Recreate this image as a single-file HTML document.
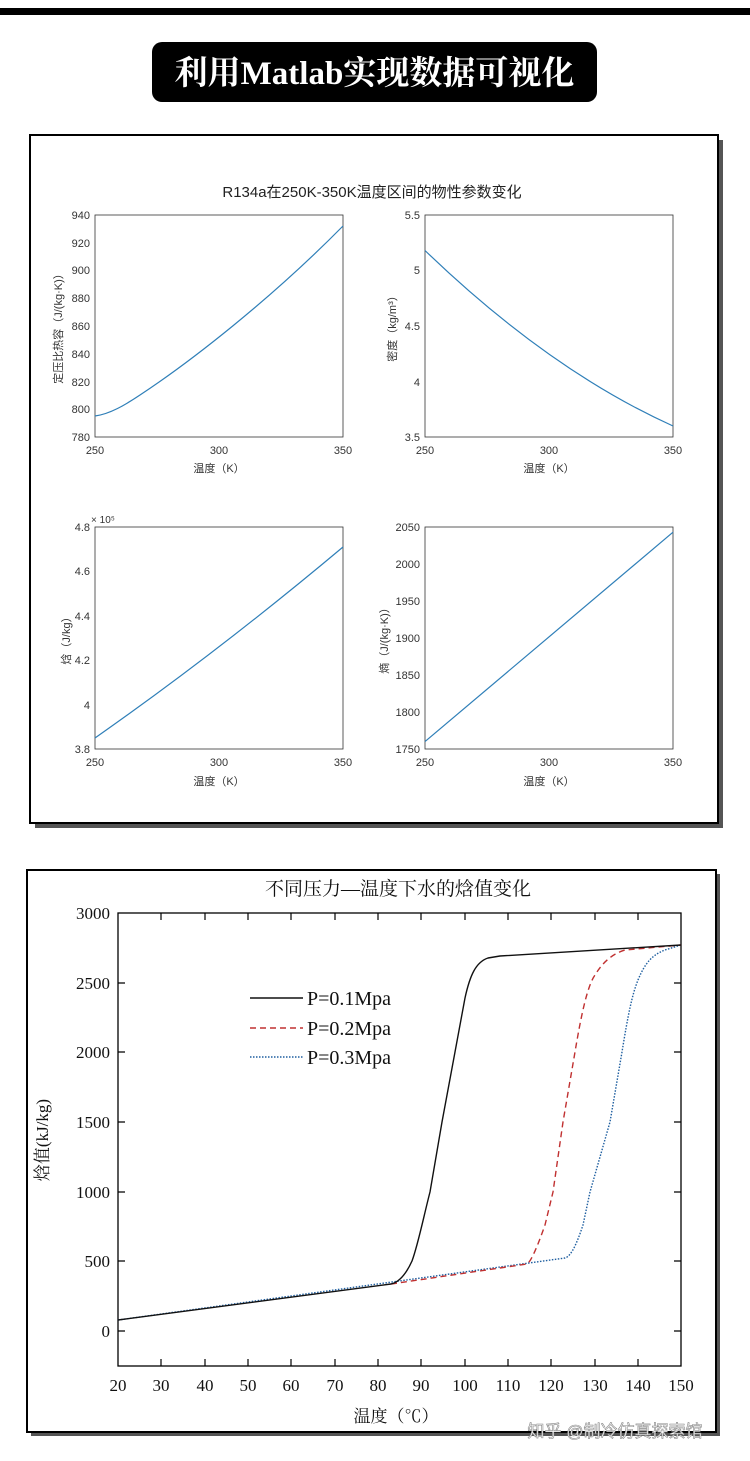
<!DOCTYPE html>
<html><head><meta charset="utf-8"><style>
body{margin:0;background:#fff;width:750px;height:1461px;overflow:hidden}
svg{display:block}
</style></head><body>
<svg width="750" height="1461" xmlns="http://www.w3.org/2000/svg" font-family="Liberation Sans, Noto Sans CJK SC, sans-serif">
<rect x="0" y="8" width="750" height="7" fill="#000"/>
<rect x="152" y="42" width="445" height="60" rx="10" fill="#000"/>
<text x="374.5" y="84" text-anchor="middle" fill="#fff" font-size="33" font-weight="bold" font-family="Liberation Serif, Noto Serif CJK SC, serif">利用Matlab实现数据可视化</text>

<!-- panel 1 -->
<rect x="35" y="140" width="688" height="688" fill="#555"/>
<rect x="30" y="135" width="688" height="688" fill="#fff" stroke="#000" stroke-width="2"/>
<text x="372" y="197" text-anchor="middle" font-size="15" fill="#222">R134a在250K-350K温度区间的物性参数变化</text>
<g fill="none" stroke="#333" stroke-width="0.8">
<rect x="95" y="215" width="248" height="222"/>
<rect x="425" y="215" width="248" height="222"/>
<rect x="95" y="527" width="248" height="222"/>
<rect x="425" y="527" width="248" height="222"/>
</g>
<g fill="none" stroke="#2f7fb8" stroke-width="1.2">
<path d="M95,416 C110,414 125,405 140,395 C190,362 270,300 343,226"/>
<path d="M425,250.5 Q549,370 673,426"/>
<path d="M95,738 Q219,651 343,547"/>
<path d="M425,741.6 L673,532.2"/>
</g>
<g font-size="11" fill="#333" text-anchor="end">
<text x="90" y="219">940</text><text x="90" y="247">920</text><text x="90" y="274">900</text><text x="90" y="302">880</text><text x="90" y="330">860</text><text x="90" y="358">840</text><text x="90" y="386">820</text><text x="90" y="413">800</text><text x="90" y="441">780</text>
<text x="420" y="219">5.5</text><text x="420" y="274">5</text><text x="420" y="330">4.5</text><text x="420" y="386">4</text><text x="420" y="441">3.5</text>
<text x="90" y="531">4.8</text><text x="90" y="575">4.6</text><text x="90" y="620">4.4</text><text x="90" y="664">4.2</text><text x="90" y="709">4</text><text x="90" y="753">3.8</text>
<text x="420" y="531">2050</text><text x="420" y="568">2000</text><text x="420" y="605">1950</text><text x="420" y="642">1900</text><text x="420" y="679">1850</text><text x="420" y="716">1800</text><text x="420" y="753">1750</text>
</g>
<g font-size="11" fill="#333" text-anchor="middle">
<text x="95" y="454">250</text><text x="219" y="454">300</text><text x="343" y="454">350</text>
<text x="425" y="454">250</text><text x="549" y="454">300</text><text x="673" y="454">350</text>
<text x="95" y="766">250</text><text x="219" y="766">300</text><text x="343" y="766">350</text>
<text x="425" y="766">250</text><text x="549" y="766">300</text><text x="673" y="766">350</text>
<text x="219" y="472">温度（K）</text><text x="549" y="472">温度（K）</text>
<text x="219" y="785">温度（K）</text><text x="549" y="785">温度（K）</text>
<text x="62" y="326" transform="rotate(-90 62 326)">定压比热容（J/(kg·K)）</text>
<text x="396" y="326" transform="rotate(-90 396 326)">密度（kg/m³）</text>
<text x="70" y="638" transform="rotate(-90 70 638)">焓（J/kg）</text>
<text x="388" y="638" transform="rotate(-90 388 638)">熵（J/(kg·K)）</text>
<text x="103" y="523" font-size="10">× 10⁵</text>
</g>

<!-- panel 2 -->
<rect x="31" y="874" width="689" height="562" fill="#555"/>
<rect x="27" y="870" width="689" height="562" fill="#fff" stroke="#000" stroke-width="2"/>
<g font-family="Liberation Serif, Noto Serif CJK SC, serif" fill="#111">
<text x="398" y="895" text-anchor="middle" font-size="19">不同压力—温度下水的焓值变化</text>
<rect x="118" y="913" width="563" height="453" fill="none" stroke="#000" stroke-width="1.3"/>
<g stroke="#000" stroke-width="1.2">
<path d="M161,913v7M205,913v7M248,913v7M291,913v7M335,913v7M378,913v7M421,913v7M465,913v7M508,913v7M551,913v7M595,913v7M638,913v7"/>
<path d="M161,1366v-7M205,1366v-7M248,1366v-7M291,1366v-7M335,1366v-7M378,1366v-7M421,1366v-7M465,1366v-7M508,1366v-7M551,1366v-7M595,1366v-7M638,1366v-7"/>
<path d="M118,983h7M118,1052h7M118,1122h7M118,1192h7M118,1261h7M118,1331h7M681,983h-7M681,1052h-7M681,1122h-7M681,1192h-7M681,1261h-7M681,1331h-7"/>
</g>
<g font-size="17" text-anchor="end">
<text x="110" y="919">3000</text><text x="110" y="989">2500</text><text x="110" y="1058">2000</text><text x="110" y="1128">1500</text><text x="110" y="1198">1000</text><text x="110" y="1267">500</text><text x="110" y="1337">0</text>
</g>
<g font-size="17" text-anchor="middle">
<text x="118" y="1391">20</text><text x="161" y="1391">30</text><text x="205" y="1391">40</text><text x="248" y="1391">50</text><text x="291" y="1391">60</text><text x="335" y="1391">70</text><text x="378" y="1391">80</text><text x="421" y="1391">90</text><text x="465" y="1391">100</text><text x="508" y="1391">110</text><text x="551" y="1391">120</text><text x="595" y="1391">130</text><text x="638" y="1391">140</text><text x="681" y="1391">150</text>
<text x="396" y="1422">温度（℃）</text>
<text x="48" y="1140" transform="rotate(-90 48 1140)">焓值(kJ/kg)</text>
</g>
<g fill="none" stroke-width="1.4" stroke-linejoin="round">
<path stroke="#1f5fa0" stroke-dasharray="1.5,1.5" d="M118,1320 L565,1258 C572,1256 578,1240 583,1225 L590,1192 L610,1122 L622,1052 C628,1015 632,995 638,980 C645,963 652,955 665,950 L681,945"/>
<path stroke="#c03030" stroke-dasharray="6,4" d="M391,1284 L527,1264 C531,1262 538,1245 545,1225 L553,1192 L563,1122 L575,1052 C582,1010 588,985 595,975 C603,962 612,954 625,950 L681,945"/>
<path stroke="#111" d="M118,1320 L391,1284 C400,1282 407,1272 412,1261 C418,1245 424,1215 430,1192 L442,1122 L455,1052 L465,998 C470,975 476,962 488,958 L500,956 L681,945"/>
<path stroke="#111" d="M250,998h53"/>
<path stroke="#c03030" stroke-dasharray="6,4" d="M250,1028h53"/>
<path stroke="#1f5fa0" stroke-dasharray="1.5,1.5" d="M250,1057h53"/>
</g>
<g font-size="20">
<text x="307" y="1005">P=0.1Mpa</text><text x="307" y="1035">P=0.2Mpa</text><text x="307" y="1064">P=0.3Mpa</text>
</g>
</g>
<text x="615" y="1437" text-anchor="middle" font-size="17" fill="#fff" stroke="#888" stroke-width="0.6">知乎 @制冷仿真探索馆</text>
</svg>
</body></html>
